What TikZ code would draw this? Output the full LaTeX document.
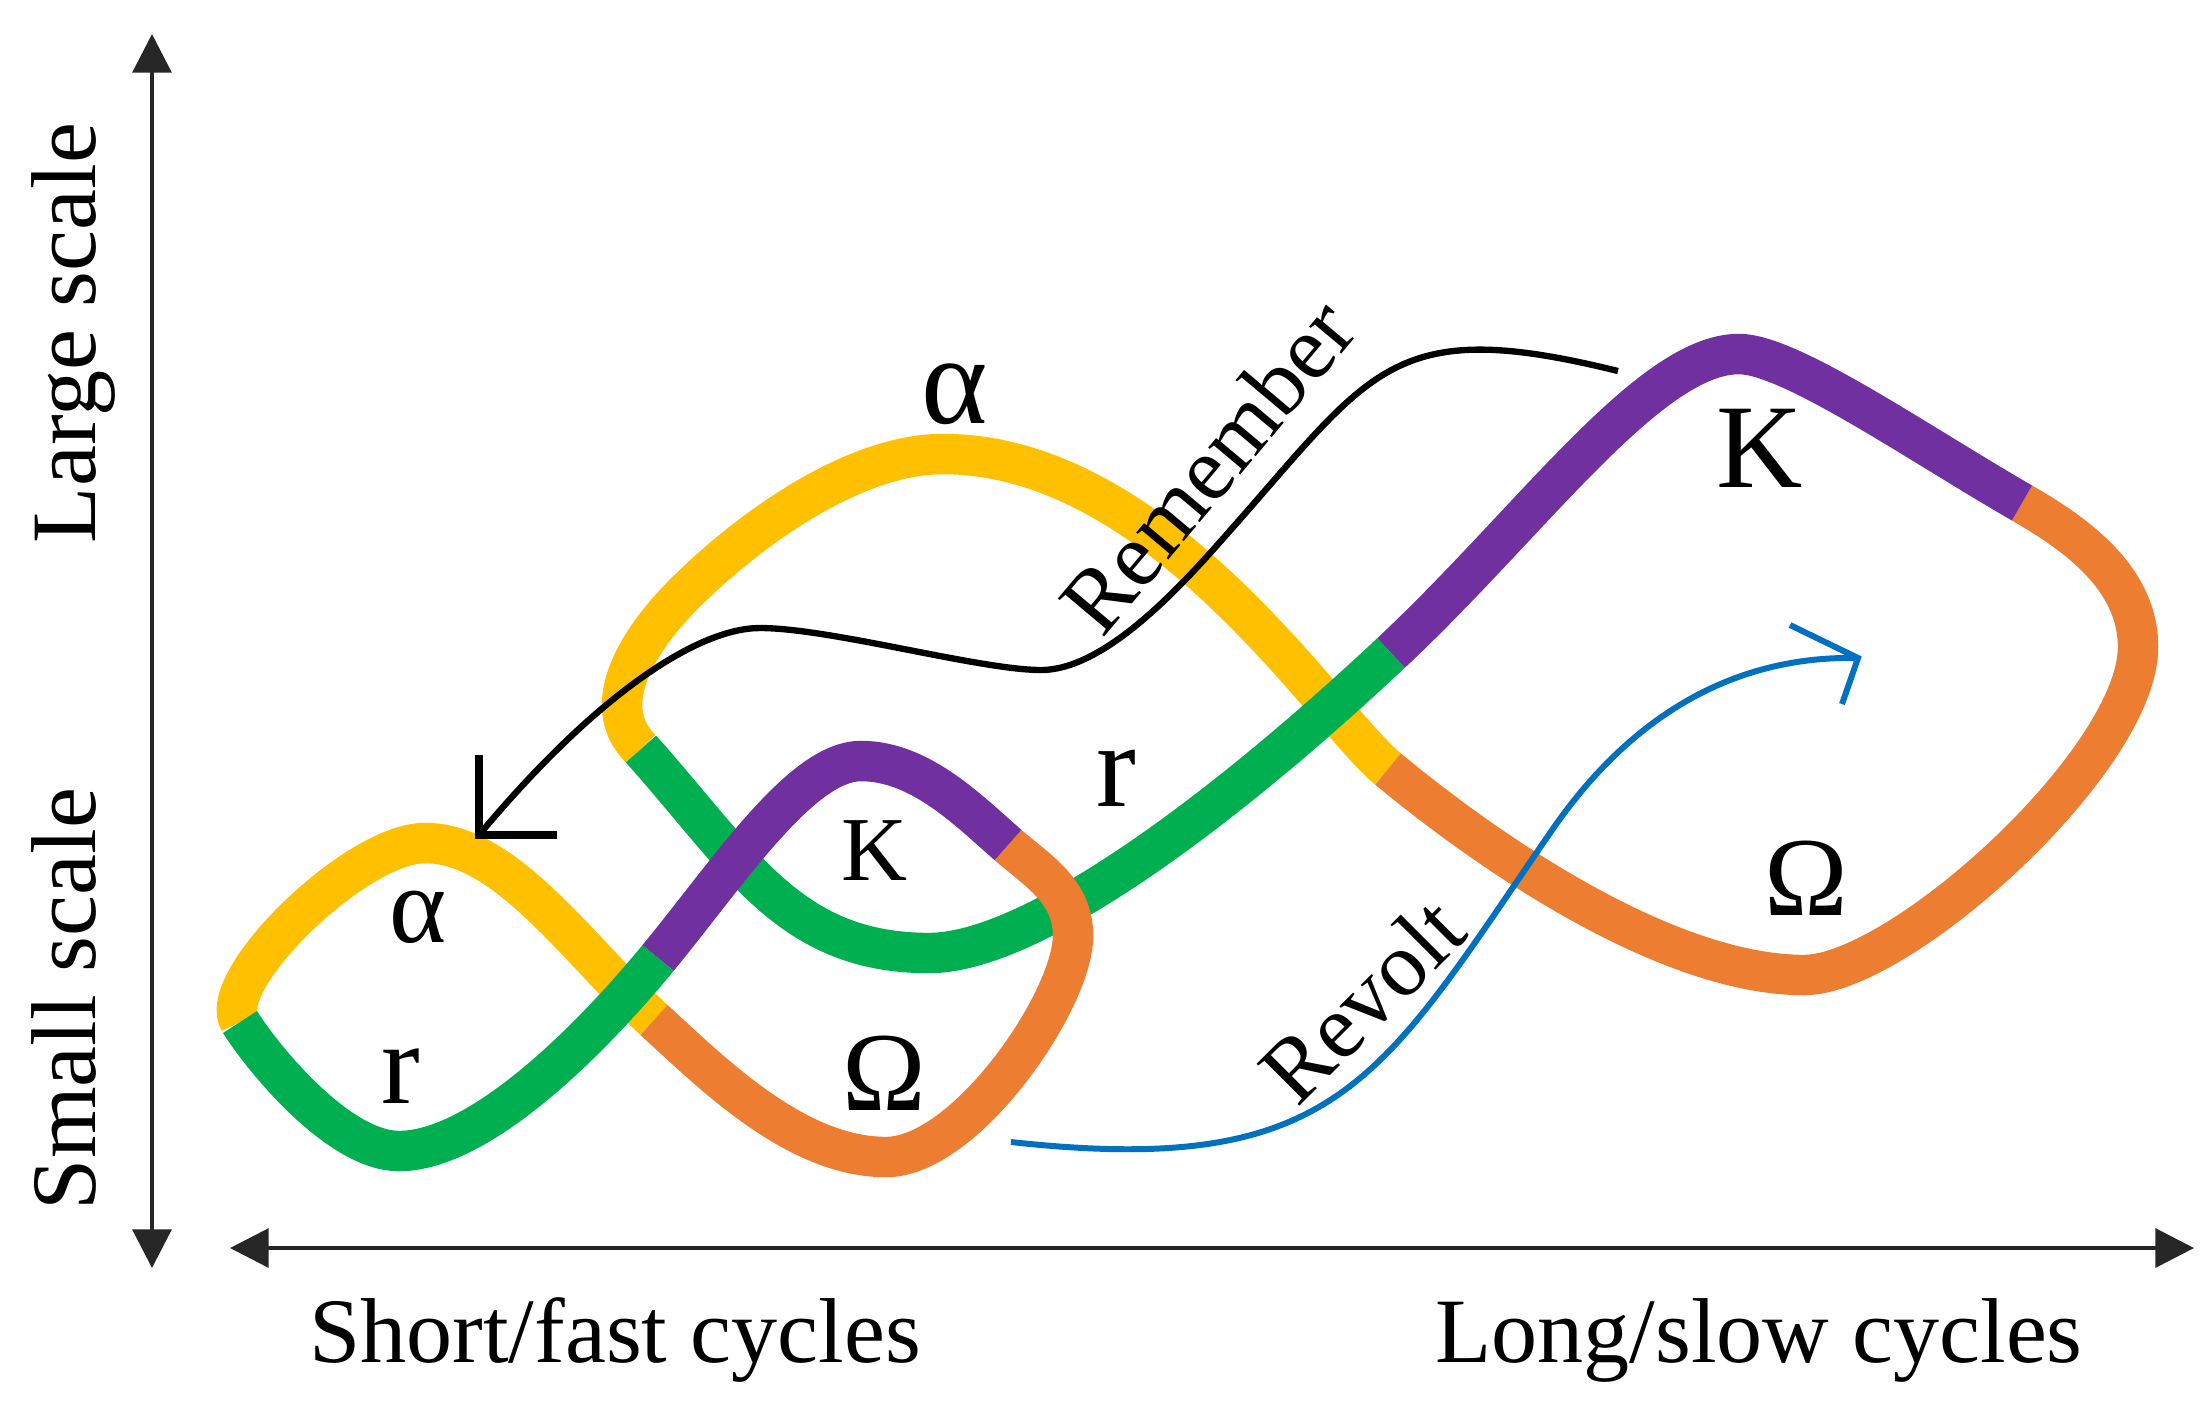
\documentclass[tikz,border=0pt]{standalone}
\usepackage{fontspec}
\setmainfont{Liberation Serif}
\usetikzlibrary{arrows.meta}
\definecolor{cyel}{HTML}{FFC000}
\definecolor{cgrn}{HTML}{00B050}
\definecolor{cpur}{HTML}{7030A0}
\definecolor{corg}{HTML}{ED7D31}
\definecolor{cblu}{HTML}{0070C0}
\begin{document}
\begin{tikzpicture}[x=0.01cm,y=-0.01cm,
  phase/.style={line width=11.5pt, line cap=butt},
  axisline/.style={line width=1.2pt, draw=black!85,
    {Triangle[length=11pt,width=11pt]}-{Triangle[length=11pt,width=11pt]}},
  remline/.style={line width=1.8pt, black},
  remhead/.style={line width=2.3pt, black, line join=miter},
  revline/.style={line width=1.7pt, cblu},
  axislabel/.style={font=\fontsize{26.2}{30}\selectfont, anchor=base, inner sep=0pt},
  arrowlabel/.style={font=\fontsize{26}{30}\selectfont, inner sep=0pt},
  phaselabel/.style={anchor=base, inner sep=0pt}]
\useasboundingbox (0,0) rectangle (2204,1414);

% axes
\coordinate (vtop) at (152,34);
\coordinate (vbot) at (152,1268);
\coordinate (hleft) at (230,1248);
\coordinate (hright) at (2194,1248);
\draw[axisline] (vbot) -- (vtop);
\draw[axisline] (hleft) -- (hright);

\node[axislabel, rotate=90] (large) at (95,333) {Large scale};
\node[axislabel, rotate=90] (small) at (95,999) {Small scale};
\node[axislabel] (short) at (615,1362) {Short/fast cycles};
\node[axislabel] (long) at (1759,1362) {Long/slow cycles};

% big cycle
\coordinate (bJ1) at (641,749);
\coordinate (bB) at (929,953);
\coordinate (bJ2) at (1391,653);
\coordinate (bT) at (1739,354);
\coordinate (bJ3) at (2022,503);
\coordinate (bR) at (2138,647);
\coordinate (bB2) at (1804,975);
\coordinate (bJ4) at (1388,769);
\coordinate (bT2) at (943,454);
\coordinate (bM) at (684,594);

\draw[phase, cyel] (bJ4) .. controls (1326,718) and (1160,454) .. (bT2)
  .. controls (853,454) and (748,530) .. (bM)
  .. controls (642,636) and (595,704) .. (bJ1);
\draw[phase, corg] (bJ3) .. controls (2074,533) and (2138,577) .. (bR)
  .. controls (2138,760) and (1900,975) .. (bB2)
  .. controls (1674,975) and (1504,865) .. (bJ4);
\draw[phase, cpur] (bJ2) .. controls (1530,523) and (1649,354) .. (bT)
  .. controls (1790,354) and (1918,443) .. (bJ3);
\draw[phase, cgrn] (bJ1) .. controls (741,861) and (789,953) .. (bB)
  .. controls (1030,953) and (1216,817) .. (bJ2);

% small cycle
\coordinate (sJ1) at (240,1022);
\coordinate (sB) at (399,1151);
\coordinate (sJ2) at (658,958);
\coordinate (sT) at (861,761);
\coordinate (sJ3) at (1008,845);
\coordinate (sR) at (1073,936);
\coordinate (sB2) at (886,1157);
\coordinate (sJ4) at (654,1020);
\coordinate (sT2) at (425,843);

\draw[phase, cyel] (sJ4) .. controls (574,945) and (505,843) .. (sT2)
  .. controls (355,843) and (214,982) .. (sJ1);
\draw[phase, corg] (sJ3) .. controls (1038,871) and (1073,891) .. (sR)
  .. controls (1073,1000) and (966,1157) .. (sB2)
  .. controls (796,1157) and (713,1074) .. (sJ4);
\draw[phase, cpur] (sJ2) .. controls (728,873) and (801,761) .. (sT)
  .. controls (921,761) and (970,812) .. (sJ3);
\draw[phase, cgrn] (sJ1) .. controls (264,1060) and (339,1151) .. (sB)
  .. controls (479,1151) and (588,1043) .. (sJ2);

% Remember arrow
\coordinate (remstart) at (1618,371);
\coordinate (remA) at (1235,525);
\coordinate (remB) at (1041,670);
\coordinate (remC) at (760,628);
\coordinate (remtip) at (479,835);
\draw[remline] (remstart) .. controls (1395,316) and (1374,367) .. (remA)
  .. controls (1195,570) and (1111,670) .. (remB)
  .. controls (980,670) and (830,628) .. (remC)
  .. controls (700,628) and (600,690) .. (remtip);
\draw[remhead] (remtip) ++(0,-80) -- (remtip) -- ++(78,0);
\node[arrowlabel, rotate=50] (remtext) at (1207,466) {Remember};

% Revolt arrow
\coordinate (revstart) at (1011,1142);
\coordinate (revB) at (1550,833);
\coordinate (revtip) at (1858,658);
\draw[revline] (revstart) .. controls (1339,1178) and (1380,1080) .. (revB)
  .. controls (1620,730) and (1720,655) .. (revtip);
\draw[revline, line join=miter] (revtip) ++(-68,-33) -- (revtip) -- ++(-16,46);
\node[arrowlabel, rotate=45] (revtext) at (1362,1000) {Revolt};

% phase labels
\node[phaselabel, font=\fontsize{36}{36}\selectfont] (ba) at (955,423) {α};
\node[phaselabel, font=\fontsize{34}{34}\selectfont] (br) at (1116,806) {r};
\node[phaselabel, font=\fontsize{34}{34}\selectfont] (bk) at (1760,487) {K};
\node[phaselabel, font=\fontsize{32}{32}\selectfont] (bo) at (1806,915) {Ω};
\node[phaselabel, font=\fontsize{31}{31}\selectfont] (sa) at (418,942) {α};
\node[phaselabel, font=\fontsize{33}{33}\selectfont] (sr) at (401,1103) {r};
\node[phaselabel, font=\fontsize{26}{26}\selectfont] (sk) at (874,880) {K};
\node[phaselabel, font=\fontsize{32}{32}\selectfont] (so) at (884,1110) {Ω};
\end{tikzpicture}
\end{document}
